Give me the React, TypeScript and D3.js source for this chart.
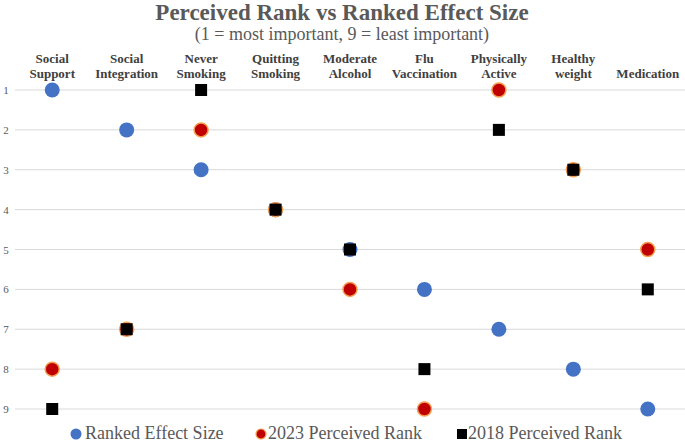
import React from 'react';
import * as d3 from 'd3';

const categories = [
  ['Social', 'Support'],
  ['Social', 'Integration'],
  ['Never', 'Smoking'],
  ['Quitting', 'Smoking'],
  ['Moderate', 'Alcohol'],
  ['Flu', 'Vaccination'],
  ['Physically', 'Active'],
  ['Healthy', 'weight'],
  ['', 'Medication'],
];
const effectSize = [1, 2, 3, 4, 5, 6, 7, 8, 9];
const perceived2023 = [8, 7, 2, 4, 6, 9, 1, 3, 5];
const perceived2018 = [9, 7, 1, 4, 5, 8, 2, 3, 6];
const rankTicks = [1, 2, 3, 4, 5, 6, 7, 8, 9];

const W = 685;
const H = 443;
const font = '"Liberation Serif", "Times New Roman", serif';

const App: React.FC = () => {
  const keys = categories.map((_, i) => String(i));
  const x = d3.scaleBand<string>().domain(keys).range([15, 685]);
  const y = d3.scaleLinear().domain([1, 9]).range([90, 409]);
  const cx = (i: number) => (x(String(i)) ?? 0) + x.bandwidth() / 2;

  return (
    <svg width={W} height={H} style={{ position: 'absolute', left: 0, top: 0, background: '#fff' }}>
      <text x={342} y={20} textAnchor="middle" fontFamily={font} fontWeight="bold" fontSize={23} fill="#595959">
        Perceived Rank vs Ranked Effect Size
      </text>
      <text x={342} y={40} textAnchor="middle" fontFamily={font} fontSize={18} fill="#595959">
        (1 = most important, 9 = least important)
      </text>

      {categories.map((c, i) => (
        <text key={i} textAnchor="middle" fontFamily={font} fontWeight="bold" fontSize={13} fill="#404040">
          <tspan x={cx(i)} y={63}>{c[0]}</tspan>
          <tspan x={cx(i)} y={78}>{c[1]}</tspan>
        </text>
      ))}

      {rankTicks.map(t => (
        <g key={t}>
          <line x1={15} x2={685} y1={y(t)} y2={y(t)} stroke="#d9d9d9" strokeWidth={1} />
          <text x={6} y={y(t) + 4} textAnchor="middle" fontFamily={font} fontSize={11} fill="#595959">{t}</text>
        </g>
      ))}

      {effectSize.map((v, i) => (
        <circle key={'e' + i} cx={cx(i)} cy={y(v)} r={7.5} fill="#4472c4" />
      ))}
      {perceived2023.map((v, i) => (
        <circle key={'p' + i} cx={cx(i)} cy={y(v)} r={7} fill="#c00000" stroke="#f4a052" strokeWidth={1.5} />
      ))}
      {perceived2018.map((v, i) => (
        <rect key={'o' + i} x={cx(i) - 6} y={y(v) - 6} width={12} height={12} fill="#000" />
      ))}

      <g fontFamily={font} fontSize={18} fill="#595959">
        <circle cx={76} cy={434} r={5.5} fill="#4472c4" />
        <text x={85} y={439}>Ranked Effect Size</text>
        <circle cx={261} cy={434} r={5} fill="#c00000" stroke="#f4a052" strokeWidth={1.2} />
        <text x={268} y={439}>2023 Perceived Rank</text>
        <rect x={457} y={429} width={10} height={10} fill="#000" />
        <text x={468} y={439}>2018 Perceived Rank</text>
      </g>
    </svg>
  );
};

export default App;
